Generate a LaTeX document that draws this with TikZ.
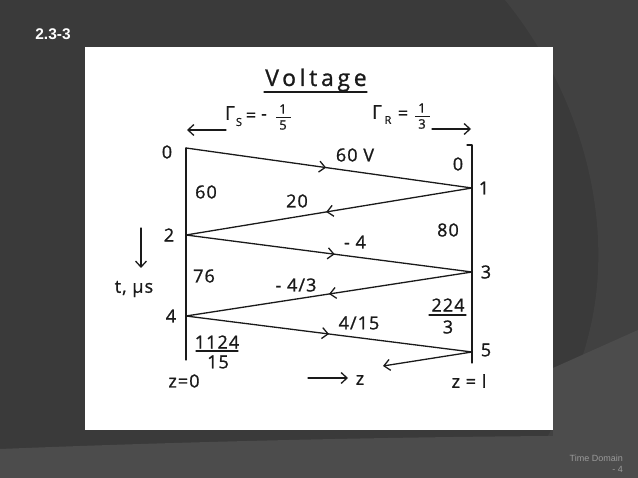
\documentclass[tikz,border=0pt]{standalone}
\usepackage{fontspec}
\setmainfont{Liberation Sans}
\newfontfamily\hand[LetterSpace=6,FakeBold=1]{Open Sans}
\newfontfamily\handwide[LetterSpace=16,FakeBold=1]{Open Sans}
\usetikzlibrary{arrows.meta,decorations.markings}
\definecolor{bgbase}{HTML}{3A3A3A}
\definecolor{bgarc}{HTML}{414141}
\definecolor{bgband}{HTML}{4C4C4C}
\definecolor{ink}{HTML}{1A1A1A}
\definecolor{foot}{HTML}{9A9A9A}
\begin{document}
\begin{tikzpicture}[x=1pt,y=-1pt,
  pen/.style={draw=ink,line width=1.3pt,line cap=round,line join=round},
  tipped/.style={-{Straight Barb[length=6pt,width=11pt]}},
  midarrow/.style={postaction={decorate},decoration={markings,
     mark=at position #1 with {\arrow{Straight Barb[length=6pt,width=11pt]}}}},
  lab/.style={font=\hand\fontsize{18}{21}\selectfont,text=ink,inner sep=0pt},
  small/.style={font=\hand\fontsize{13}{15}\selectfont,text=ink,inner sep=0pt},
  tiny/.style={font=\hand\fontsize{11}{13}\selectfont,text=ink,inner sep=0pt},
  big/.style={font=\hand\fontsize{19}{22}\selectfont,text=ink,inner sep=0pt}]
\useasboundingbox (0,0) rectangle (638,478);
% background
\fill[bgbase] (0,0) rectangle (638,478);
\fill[bgarc] (505,0) .. controls (570,80) and (602,180) .. (598,270)
   .. controls (595,350) and (560,420) .. (523,478) -- (638,478) -- (638,0) -- cycle;
\fill[bgband] (0,449) .. controls (200,441) and (400,437) .. (553,436)
   -- (553,368) -- (638,330) -- (638,478) -- (0,478) -- cycle;
% panel
\fill[white] (85,47) rectangle (553,430);
% title and footer
\node[font=\bfseries\fontsize{15.5}{18}\selectfont,text=white,inner sep=0pt] (title) at (53,34) {2.3-3};
\node[font=\fontsize{9}{10}\selectfont,text=foot,inner sep=0pt,anchor=east] (foot1) at (623,458) {Time Domain};
\node[font=\fontsize{9}{10}\selectfont,text=foot,inner sep=0pt,anchor=east] (foot2) at (623,469) {- 4};
% heading
\node[font=\handwide\fontsize{23}{27}\selectfont,text=ink,inner sep=0pt] (volt) at (316,80) {Voltage};
\coordinate (ulA) at (264,92);
\coordinate (ulB) at (367,92);
\draw[pen] (ulA) -- (ulB);
% Gamma S
\node[big] (gs) at (230,113) {Γ};
\node[tiny] (gss) at (239,122) {S};
\node[lab] (gseq) at (251,117) {=};
\node[lab] (gsmin) at (264,117) {-};
\node[small] (gsn) at (283,109) {1};
\node[small] (gsd) at (283,125) {5};
\coordinate (gsbA) at (276,117.5);
\coordinate (gsbB) at (291,117.5);
\draw[ink,line width=1.2pt] (gsbA) -- (gsbB);
% Gamma R
\node[big] (gr) at (377,112) {Γ};
\node[tiny] (grs) at (388,120) {R};
\node[lab] (greq) at (403,115) {=};
\node[small] (grn) at (422,108) {1};
\node[small] (grd) at (422,124) {3};
\coordinate (grbA) at (415,116.5);
\coordinate (grbB) at (430,116.5);
\draw[ink,line width=1.2pt] (grbA) -- (grbB);
% side arrows
\coordinate (laA) at (226,130);
\coordinate (laB) at (187,130);
\draw[pen,tipped] (laA) -- (laB);
\coordinate (raA) at (432,129);
\coordinate (raB) at (471,129);
\draw[pen,tipped] (raA) -- (raB);
% lattice points
\coordinate (p0) at (186,148);
\coordinate (p1) at (472,188);
\coordinate (p2) at (186,235);
\coordinate (p3) at (472,272);
\coordinate (p4) at (186,316);
\coordinate (p5) at (472,352);
\coordinate (pend) at (383,366);
\coordinate (Lbot) at (186,360);
\coordinate (Rhook) at (467,145);
\coordinate (Rtop) at (472,145);
\coordinate (Rbot) at (472,363);
\draw[pen] (p0) -- (Lbot);
\draw[pen] (Rhook) -- (Rtop) -- (Rbot);
\draw[pen,midarrow=0.49] (p0) -- (p1);
\draw[pen,midarrow=0.51] (p1) -- (p2);
\draw[pen,midarrow=0.52] (p2) -- (p3);
\draw[pen,midarrow=0.50] (p3) -- (p4);
\draw[pen,midarrow=0.50] (p4) -- (p5);
\draw[pen,tipped] (p5) -- (pend);
% time labels
\node[lab] (t0) at (167,152) {0};
\node[lab] (t1) at (484,188) {1};
\node[lab] (t2) at (169,235) {2};
\node[lab] (t3) at (486,272) {3};
\node[lab] (t4) at (171,316) {4};
\node[lab] (t5) at (486,350) {5};
% wave labels
\node[lab] (w60) at (355,155) {60 V};
\node[lab] (w20) at (297,201) {20};
\node[lab] (wm4) at (355,242) {- 4};
\node[lab] (wm43) at (296,285) {- 4/3};
\node[lab] (w415) at (359,323) {4/15};
% totals
\node[lab] (vr0) at (458,164) {0};
\node[lab] (vl60) at (206,192) {60};
\node[lab] (vr80) at (448,230) {80};
\node[lab] (vl76) at (204,276) {76};
\node[lab] (vr224) at (448,305) {224};
\node[lab] (vr3) at (448,327) {3};
\coordinate (b224A) at (429,315);
\coordinate (b224B) at (466,315);
\draw[pen] (b224A) -- (b224B);
\node[lab] (vl1124) at (217,342) {1124};
\node[lab] (vl15) at (218,362) {15};
\coordinate (b1124A) at (196,351);
\coordinate (b1124B) at (238,351);
\draw[pen] (b1124A) -- (b1124B);
% time axis
\coordinate (taA) at (141,228);
\coordinate (taB) at (141,268);
\draw[pen,tipped] (taA) -- (taB);
\node[lab] (tmus) at (134,289) {t, μs};
% z labels
\node[lab] (z0) at (184,381) {z=0};
\coordinate (zaA) at (308,378);
\coordinate (zaB) at (348,378);
\draw[pen,tipped] (zaA) -- (zaB);
\node[lab] (zz) at (360,380) {z};
\node[lab] (zl) at (469,381) {z = l};
\end{tikzpicture}
\end{document}
